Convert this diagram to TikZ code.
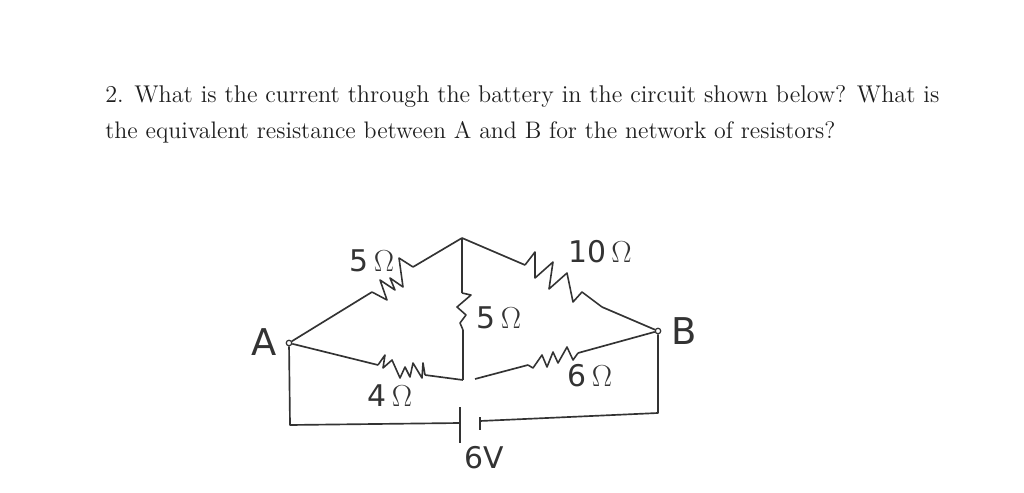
\documentclass[tikz,border=0pt]{standalone}
\usepackage{amsmath}
\usepackage{fontspec}
\newfontfamily\handfont{DejaVu Sans}[Scale=1]
\usetikzlibrary{calc}
\definecolor{inkc}{gray}{0.2}
\definecolor{printc}{gray}{0.12}
\tikzset{
  wire/.style={line width=0.95pt,inkc,line join=round},
  coil/.style={line width=0.9pt,inkc,line join=round},
  terminal/.style={circle,draw=inkc,line width=0.7pt,inner sep=1.1pt,fill=white},
  hand/.style={inkc,inner sep=0pt,font=\handfont\fontsize{17}{20}\selectfont},
  printed/.style={printc,anchor=base west,inner sep=0pt,font=\fontsize{13.78}{16}\selectfont},
}
\begin{document}
\begin{tikzpicture}[x=0.02cm,y=-0.02cm]
  \useasboundingbox (0,0) rectangle (1024,493);
  % question text
  \node[printed] (lineone) at (105,103) {2. What is the current through the battery in the circuit shown below? What is};
  \node[printed,font=\fontsize{13.6}{16}\selectfont] (linetwo) at (105,139) {the equivalent resistance between A and B for the network of resistors?};
  % junctions
  \node[terminal] (A) at (289,343) {};
  \node[terminal] (B) at (658,331) {};
  \coordinate (top) at (462,238);
  \coordinate (bot) at (463,380);
  \coordinate (left) at (290,425);
  \coordinate (right) at (658,413);
  % resistor ends
  \coordinate (fiveain) at (372,292);
  \coordinate (fiveaout) at (413,267);
  \coordinate (tenin) at (525,265);
  \coordinate (tenout) at (602,307);
  \coordinate (fivebin) at (462,293);
  \coordinate (fivebout) at (463,330);
  \coordinate (fourin) at (378,365);
  \coordinate (fourout) at (425,375);
  \coordinate (sixin) at (528,365);
  \coordinate (sixout) at (578,353);
  \coordinate (battl) at (460,423);
  \coordinate (battr) at (480,421);
  % wires
  \draw[wire] (A) -- (fiveain);
  \draw[wire] (fiveaout) -- (top);
  \draw[wire] (top) -- (tenin);
  \draw[wire] (tenout) -- (B);
  \draw[wire] (top) -- (fivebin);
  \draw[wire] (fivebout) -- (bot);
  \draw[wire] (A) -- (fourin);
  \draw[wire] (fourout) -- (bot);
  \draw[wire] (bot) ++(12,-1) -- (sixin);
  \draw[wire] (sixout) -- (B);
  \draw[wire] (A) -- (left) -- (battl);
  \draw[wire] (B) -- (right) -- (battr);
  % resistors
  \draw[coil] (fiveain) -- (387,300) -- (380,280) -- (395,290) -- (390,278) -- (403,287) -- (399,258) -- (fiveaout);
  \draw[coil] (tenin) -- (535,252) -- (535,278) -- (553,262) -- (549,289) -- (567,273) -- (573,302) -- (582,292) -- (tenout);
  \draw[coil] (fivebin) -- (471,295) -- (457,307) -- (466,315) -- (460,323) -- (fivebout);
  \draw[coil] (fourin) -- (385,355) -- (383,368) -- (392,360) -- (400,378) -- (405,367) -- (410,377) -- (413,363) -- (422,378) -- (423,363) -- (fourout);
  \draw[coil] (sixin) -- (533,368) -- (542,355) -- (547,367) -- (553,352) -- (558,363) -- (567,347) -- (573,360) -- (sixout);
  % battery
  \draw[wire,line width=1.1pt] (battl) ++(0,-16) -- ++(0,36);
  \draw[wire,line width=1.3pt] (battr) ++(0,-4) -- ++(0,13);
  % labels
  \node[hand,font=\handfont\fontsize{21}{24}\selectfont] (labA) at (264,342) {A};
  \node[hand,font=\handfont\fontsize{21}{24}\selectfont] (labB) at (684,331) {B};
  \node[hand] (labfivea) at (372,261) {5\,$\Omega$};
  \node[hand] (labten) at (600,252) {10\,$\Omega$};
  \node[hand] (labfiveb) at (499,318) {5\,$\Omega$};
  \node[hand] (labsix) at (590,376) {6\,$\Omega$};
  \node[hand] (labfour) at (390,396) {4\,$\Omega$};
  \node[hand] (labvolt) at (484,458) {6V};
\end{tikzpicture}
\end{document}
